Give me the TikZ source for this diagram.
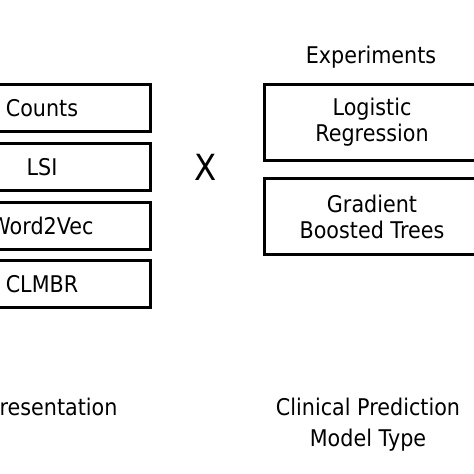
\documentclass[tikz,border=0pt]{standalone}
\usepackage{fontspec}
\setmainfont[FakeStretch=0.9]{DejaVu Sans}

\begin{document}
\begin{tikzpicture}[x=1pt, y=-1pt, font=\fontsize{23}{26}\selectfont,
    repbox/.style={draw, line width=3pt, minimum width=216pt, minimum height=47pt, inner sep=0pt},
    modelbox/.style={draw, line width=3pt, minimum width=216pt, minimum height=76pt, inner sep=0pt, align=center}]
    % Canvas (the figure is cut at both sides)
    \useasboundingbox (0,0) rectangle (474,474);
    \clip (0,0) rectangle (474,474);

    % Representation boxes
    \node[repbox] (counts) at (42,108) {Counts};
    \node[repbox] (lsi) at (42,167) {LSI};
    \node[repbox] (wv) at (42,226) {Word2Vec};
    \node[repbox] (clmbr) at (42,284) {CLMBR};

    % Model boxes
    \node[modelbox] (lr) at (372,122.5) {Logistic\\Regression};
    \node[modelbox] (gbt) at (372,216.5) {Gradient\\Boosted Trees};

    % Cross
    \node[font=\fontsize{36}{40}\selectfont] (cross) at (206,167) {X};

    % Labels
    \node (exp) at (371,57) {Experiments};
    \node[anchor=east] (rep) at (121,409) {Representation};
    \node[align=center, font=\fontsize{23}{31}\selectfont] (cpm) at (368,424.5) {Clinical Prediction\\Model Type};
\end{tikzpicture}
\end{document}
